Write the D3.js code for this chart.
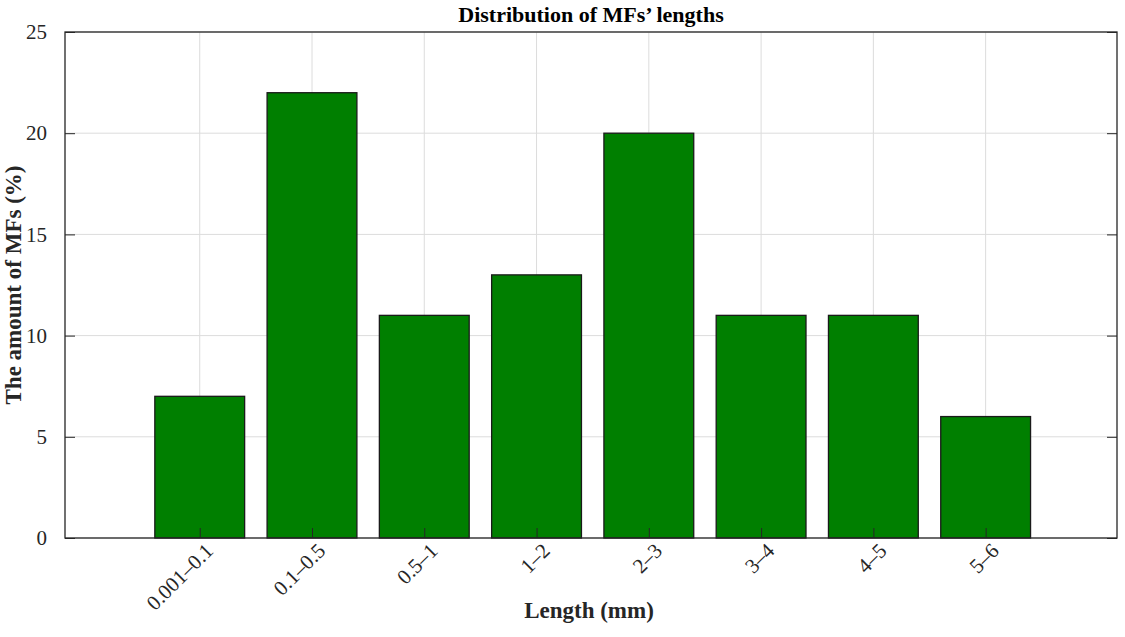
<!DOCTYPE html>
<html><head><meta charset="utf-8">
<script src="https://cdn.jsdelivr.net/npm/d3@7"></script>
<style>body{margin:0;background:#fff;} text{font-family:"Liberation Serif","Times New Roman",serif;}</style>
</head><body><div id="chart"></div>
<script>
let categories = ["0.001\u20130.1", "0.1\u20130.5", "0.5\u20131", "1\u20132", "2\u20133", "3\u20134", "4\u20135", "5\u20136"];
let values = [7, 22, 11, 13, 20, 11, 11, 6];
let y_ticks = [0, 5, 10, 15, 20, 25];

let margin_left = 65, margin_top = 32, margin_right = 8, margin_bottom = 99;
let chart_width = 1125, chart_height = 637;
let width = chart_width - margin_left - margin_right;
let height = chart_height - margin_top - margin_bottom;

let svg = d3.select("#chart").append("svg")
    .attr("width", chart_width).attr("height", chart_height)
    .append("g").attr("transform", "translate(" + margin_left + "," + margin_top + ")");

let xScale = d3.scaleLinear().domain([-0.2, 9.17]).range([0, width]);
let yScale = d3.scaleLinear().domain([0, 25]).range([height, 0]);

// grid
svg.selectAll(".vgrid").data(categories).enter().append("line")
    .attr("x1", (d, i) => xScale(i + 1)).attr("x2", (d, i) => xScale(i + 1))
    .attr("y1", 0).attr("y2", height).attr("stroke", "#dcdcdc").attr("stroke-width", 1);
svg.selectAll(".hgrid").data(y_ticks).enter().append("line")
    .attr("x1", 0).attr("x2", width)
    .attr("y1", d => yScale(d)).attr("y2", d => yScale(d)).attr("stroke", "#dcdcdc").attr("stroke-width", 1);

// bars
svg.selectAll(".bar").data(values).enter().append("rect")
    .attr("x", (d, i) => xScale(i + 1 - 0.4))
    .attr("width", xScale(0.8) - xScale(0))
    .attr("y", d => yScale(d))
    .attr("height", d => height - yScale(d))
    .attr("fill", "#007f00").attr("stroke", "#1a1a1a").attr("stroke-width", 1.3);

// box
svg.append("rect").attr("width", width).attr("height", height)
    .attr("fill", "none").attr("stroke", "#262626").attr("stroke-width", 1.3);

// axes (ticks inside)
let yAxis = svg.append("g").call(d3.axisLeft(yScale).tickValues(y_ticks).tickSize(-10).tickPadding(18));
yAxis.select(".domain").remove();
yAxis.selectAll("line").attr("stroke", "#262626");
yAxis.selectAll("text").attr("font-size", 21).attr("fill", "#262626");

let yAxisR = svg.append("g").attr("transform", "translate(" + width + ",0)")
    .call(d3.axisRight(yScale).tickValues(y_ticks).tickSize(-10).tickFormat(""));
yAxisR.select(".domain").remove();
yAxisR.selectAll("line").attr("stroke", "#262626");

let xAxis = svg.append("g").attr("transform", "translate(0," + height + ")")
    .call(d3.axisBottom(xScale).tickValues(d3.range(1, categories.length + 1)).tickSize(-10)
        .tickFormat((d) => categories[d - 1]));
xAxis.select(".domain").remove();
xAxis.selectAll("line").attr("stroke", "#262626");
xAxis.selectAll("text").attr("font-size", 21).attr("fill", "#262626")
    .attr("text-anchor", "end").attr("dy", 0)
    .attr("transform", "translate(12,12) rotate(-45)");

// titles
svg.append("text").attr("x", width / 2 - 0).attr("y", -10).attr("text-anchor", "middle")
    .attr("font-size", 22).attr("font-weight", "bold").attr("fill", "#000")
    .text("Distribution of MFs\u2019 lengths");
svg.append("text").attr("x", 524).attr("y", height + 80).attr("text-anchor", "middle")
    .attr("font-size", 23).attr("font-weight", "bold").attr("fill", "#262626")
    .text("Length (mm)");
svg.append("text").attr("transform", "translate(-44," + (height / 2) + ") rotate(-90)")
    .attr("text-anchor", "middle").attr("font-size", 23).attr("font-weight", "bold").attr("fill", "#262626")
    .text("The amount of MFs (%)");
</script></body></html>
